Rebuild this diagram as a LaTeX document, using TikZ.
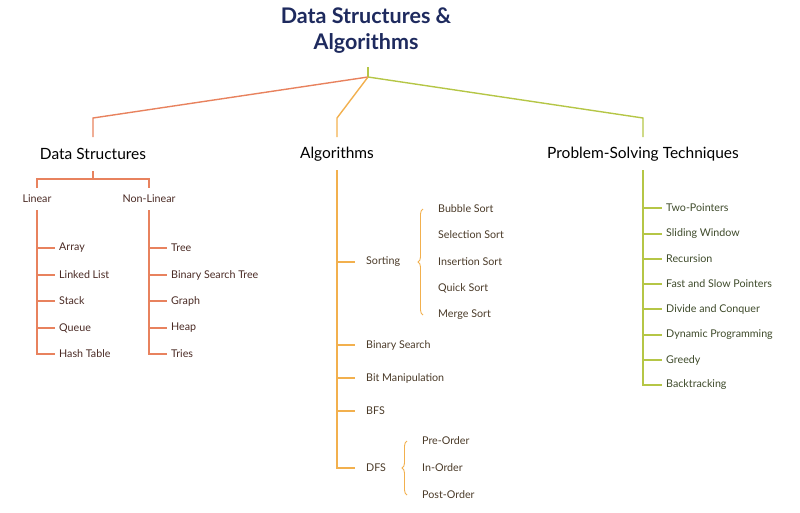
\documentclass[tikz,border=0pt]{standalone}
\usepackage{fontspec}
\setmainfont{Lato}
\usetikzlibrary{decorations.pathreplacing,calc}
\definecolor{cred}{HTML}{E8825E}
\definecolor{corange}{HTML}{F2B04E}
\definecolor{cgreen}{HTML}{B5C646}
\definecolor{navy}{HTML}{1E2A5E}
\definecolor{tred}{HTML}{4A2A24}
\definecolor{tbrown}{HTML}{4A3A28}
\definecolor{tolive}{HTML}{3E4A2A}
\tikzset{
  ln/.style={line width=1.4pt},
  hdr/.style={font=\fontsize{15.5}{18}\selectfont, text=black, inner sep=0pt},
  itm/.style={font=\fontsize{10.7}{13}\selectfont, anchor=west, inner sep=0pt},
  brc/.style={decorate, decoration={brace, amplitude=5pt}, line width=0.9pt},
}
\begin{document}
\begin{tikzpicture}[x=1pt,y=-1pt]
\useasboundingbox (0,0) rectangle (800,512);
% title
\node[font=\bfseries\fontsize{21.5}{26}\selectfont, text=navy, align=center] (title) at (366,31) {Data Structures \&\\Algorithms};
\coordinate (top) at (368,67);
\coordinate (root) at (368,77);
\draw[ln, cgreen] (top) -- (root);
% level 1
\node[hdr] (ds) at (93,154) {Data Structures};
\node[hdr] (alg) at (337,154) {Algorithms};
\node[hdr] (pst) at (643,154) {Problem-Solving Techniques};
\draw[ln, cred] (root) -- (93,118) -- ($(ds.center)+(0,-17)$);
\draw[ln, corange] (root) -- (337,118) -- ($(alg.center)+(0,-17)$);
\draw[ln, cgreen] (root) -- (643,118) -- ($(pst.center)+(0,-17)$);
% Data structures
\node[itm, anchor=center, text=tred] (lin) at (37,199) {Linear};
\node[itm, anchor=center, text=tred] (nlin) at (149,199) {Non-Linear};
\coordinate (dsj) at (93,179);
\draw[ln, cred] ($(ds.center)+(0,17)$) -- (dsj);
\draw[ln, cred] ($(lin.center)+(0,-11)$) -- (37,179) -- (149,179) -- ($(nlin.center)+(0,-11)$);
\foreach \n/\t/\y in {a1/Array/248, a2/Linked List/275, a3/Stack/301, a4/Queue/328, a5/Hash Table/354}{
  \node[itm, text=tred] (\n) at (59,\y) {\t};
}
\foreach \n/\t/\y in {b1/Tree/248, b2/Binary Search Tree/275, b3/Graph/301, b4/Heap/328, b5/Tries/354}{
  \node[itm, text=tred] (\n) at (171,\y) {\t};
}
\draw[ln, cred] ($(lin.center)+(0,11)$) -- (lin.center |- a5.west) -- ([xshift=-4]a5.west);
\draw[ln, cred] ($(nlin.center)+(0,11)$) -- (nlin.center |- b5.west) -- ([xshift=-4]b5.west);
\foreach \n in {a1,a2,a3,a4}{ \draw[ln, cred] (lin.center |- \n.west) -- ([xshift=-4]\n.west); }
\foreach \n in {b1,b2,b3,b4}{ \draw[ln, cred] (nlin.center |- \n.west) -- ([xshift=-4]\n.west); }
% Algorithms
\foreach \n/\t/\y in {s/Sorting/262, bs/Binary Search/345, bm/Bit Manipulation/378, bfs/BFS/411, dfs/DFS/468}{
  \node[itm, text=tbrown] (\n) at (366,\y) {\t};
}
\draw[ln, corange] ($(alg.center)+(0,16)$) -- (alg.center |- dfs.west) -- ([xshift=-11]dfs.west);
\foreach \n in {s,bs,bm,bfs}{ \draw[ln, corange] (alg.center |- \n.west) -- ([xshift=-11]\n.west); }
\foreach \n/\t/\y in {s1/Bubble Sort/209, s2/Selection Sort/235, s3/Insertion Sort/262, s4/Quick Sort/288, s5/Merge Sort/315}{
  \node[itm, text=tbrown] (\n) at (438,\y) {\t};
}
\draw[brc, corange] ([xshift=-15]s5.west) -- ([xshift=-15]s1.west);
\foreach \n/\t/\y in {d1/Pre-Order/441, d2/In-Order/468, d3/Post-Order/495}{
  \node[itm, text=tbrown] (\n) at (422,\y) {\t};
}
\draw[brc, corange] ([xshift=-15]d3.west) -- ([xshift=-15]d1.west);
% Problem solving
\foreach \n/\t/\y in {p1/Two-Pointers/208, p2/Sliding Window/234, p3/Recursion/259, p4/Fast and Slow Pointers/284, p5/Divide and Conquer/309, p6/Dynamic Programming/335, p7/Greedy/360, p8/Backtracking/385}{
  \node[itm, text=tolive] (\n) at (666,\y) {\t};
}
\draw[ln, cgreen] ($(pst.center)+(0,16)$) -- (pst.center |- p8.west) -- ([xshift=-4]p8.west);
\foreach \n in {p1,p2,p3,p4,p5,p6,p7}{ \draw[ln, cgreen] (pst.center |- \n.west) -- ([xshift=-4]\n.west); }
\end{tikzpicture}
\end{document}
